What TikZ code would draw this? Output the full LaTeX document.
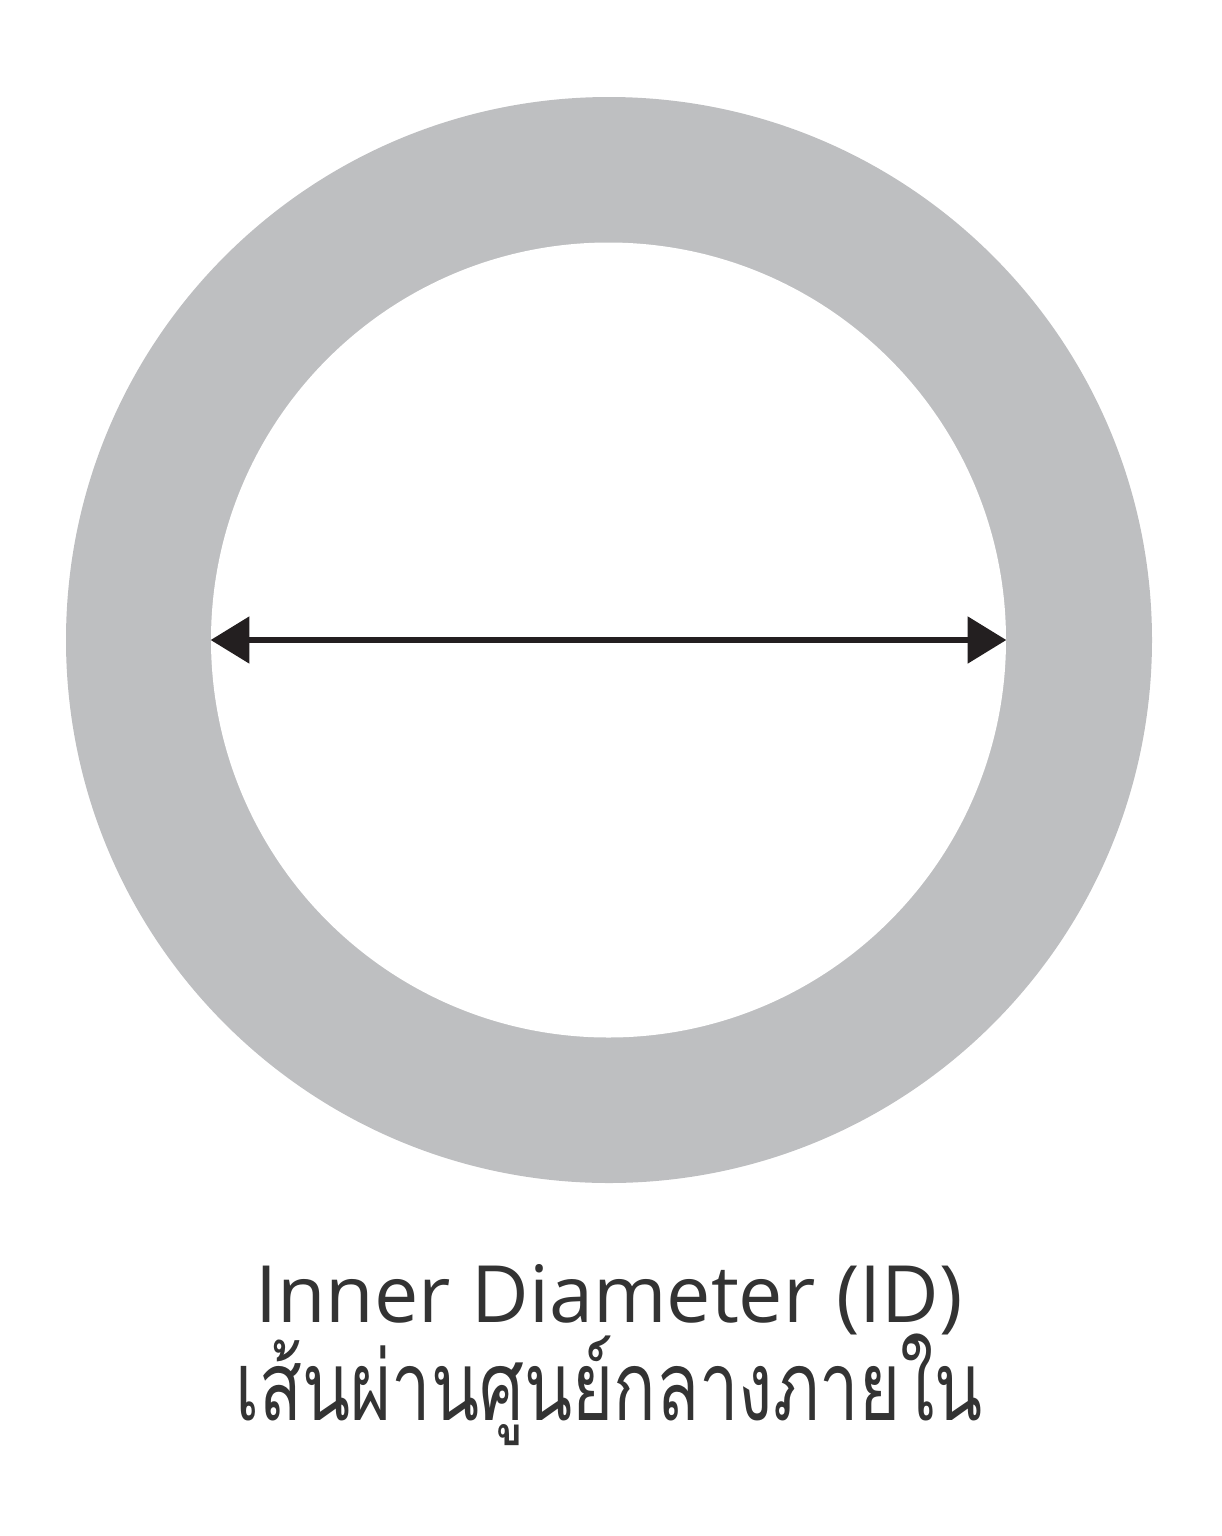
\documentclass[tikz,border=0pt]{standalone}
\usepackage{fontspec}
\setmainfont{Open Sans}
\newfontfamily\thaifont[Script=Thai]{Loma}
\usetikzlibrary{arrows.meta}
\definecolor{ringgray}{HTML}{BEBFC1}
\definecolor{arrowblack}{HTML}{231F20}
\definecolor{textgray}{HTML}{333333}
\begin{document}
\begin{tikzpicture}[x=0.02cm,y=-0.02cm,
  ring/.style={circle,fill=ringgray,draw=none,minimum size=1086*0.02cm,inner sep=0pt},
  hole/.style={circle,fill=white,draw=none,minimum size=795*0.02cm,inner sep=0pt},
  dimarrow/.style={draw=arrowblack,line width=3.4pt,{Triangle[length=22pt,width=26pt]}-{Triangle[length=22pt,width=26pt]},shorten <=0pt,shorten >=0pt},
  caption/.style={text=textgray,inner sep=0pt,anchor=base}]
\useasboundingbox (0,0) rectangle (1222,1536);
\node[ring] (outer) at (609,640) {};
\node[hole] (inner) at (608.5,640) {};
\draw[dimarrow] (inner.west) -- (inner.east);
\node[caption,font=\fontsize{45}{54}\selectfont] (en) at (609,1322) {Inner Diameter (ID)};
\node[caption,font=\fontsize{45}{54}\thaifont] (th) at (609,1420) {\scalebox{0.89}[1.22]{เส้นผ่านศูนย์กลางภายใน}};
\end{tikzpicture}
\end{document}
